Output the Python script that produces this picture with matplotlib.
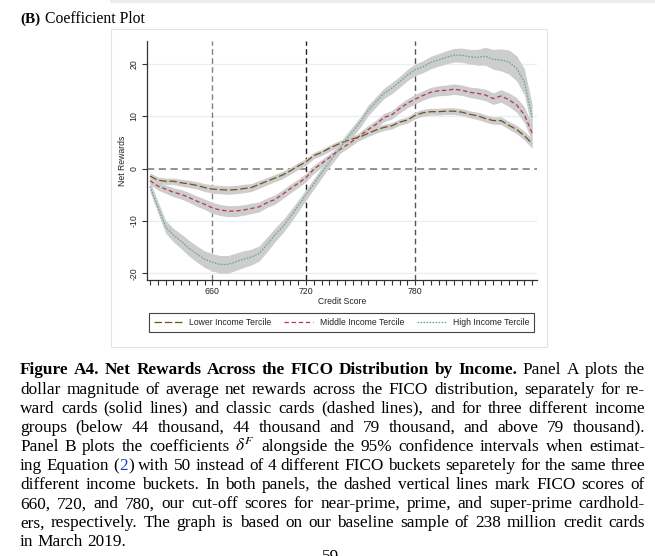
import numpy as np
import matplotlib
matplotlib.use('Agg')
import matplotlib.pyplot as plt
from matplotlib.patches import Rectangle

W, H = 655, 556

# 50 FICO buckets, labelled at the cut-off scores
bucket = np.arange(50)
tick_pos = [8, 20, 34]
tick_lab = ['660', '720', '780']

lower = [-1.4, -2.2, -2.4, -2.4, -2.7, -2.9, -3.2, -3.6, -3.9, -4.0,
         -4.1, -4.0, -3.8, -3.6, -3.0, -2.4, -1.8, -1.2, -0.4, 0.5,
         1.3, 2.5, 3.1, 3.9, 4.6, 5.2, 5.7, 6.1, 6.8, 7.4,
         7.9, 8.2, 8.9, 9.3, 10.2, 10.7, 10.9, 10.9, 11.0, 11.0,
         10.8, 10.4, 10.1, 9.6, 9.2, 9.2, 8.3, 7.5, 6.3, 4.8]
middle = [-2.3, -3.3, -3.9, -4.5, -4.9, -5.5, -6.2, -6.8, -7.5, -7.9,
          -8.1, -8.1, -7.9, -7.6, -7.3, -6.5, -5.9, -4.9, -3.8, -2.8,
          -1.7, -0.1, 1.0, 2.1, 3.3, 4.3, 5.3, 6.4, 7.5, 8.5,
          9.8, 10.3, 11.5, 12.5, 13.3, 14.0, 14.6, 14.9, 15.0, 15.2,
          15.0, 14.6, 14.4, 14.1, 13.4, 13.9, 13.2, 12.2, 10.3, 6.8]
high = [-3.4, -7.3, -11.1, -12.7, -13.9, -15.2, -16.3, -17.3, -17.9, -18.3,
        -18.3, -17.8, -17.3, -16.9, -16.2, -14.5, -12.7, -11.1, -9.2, -7.1,
        -5.0, -2.9, -0.8, 1.3, 3.2, 5.3, 7.1, 9.0, 11.2, 12.8,
        14.4, 15.4, 16.6, 17.9, 18.9, 19.5, 20.3, 20.8, 21.3, 21.7,
        21.7, 21.4, 21.3, 21.5, 20.9, 20.8, 20.4, 19.2, 16.6, 9.9]

# half widths of the 95% bands
lower_hw = [0.6, 0.6, 0.6, 0.6, 0.65, 0.7, 0.7, 0.75, 0.8, 0.8,
            0.8, 0.8, 0.8, 0.75, 0.75, 0.7, 0.7, 0.7, 0.65, 0.65,
            0.65, 0.6, 0.6, 0.6, 0.6, 0.6, 0.6, 0.6, 0.6, 0.6,
            0.6, 0.6, 0.6, 0.6, 0.65, 0.65, 0.65, 0.65, 0.65, 0.65,
            0.65, 0.65, 0.7, 0.7, 0.7, 0.75, 0.75, 0.8, 0.85, 0.9]
middle_hw = [0.7, 0.75, 0.8, 0.85, 0.9, 0.95, 1.0, 1.0, 1.05, 1.05,
             1.05, 1.05, 1.0, 1.0, 0.95, 0.9, 0.9, 0.85, 0.85, 0.8,
             0.8, 0.8, 0.75, 0.75, 0.75, 0.75, 0.75, 0.75, 0.8, 0.8,
             0.8, 0.8, 0.85, 0.85, 0.9, 0.9, 0.95, 0.95, 1.0, 1.0,
             1.0, 1.0, 1.05, 1.1, 1.1, 1.2, 1.3, 1.4, 1.5, 1.6]
high_hw = [1.0, 1.1, 1.2, 1.3, 1.4, 1.5, 1.55, 1.6, 1.65, 1.7,
           1.7, 1.65, 1.6, 1.5, 1.45, 1.4, 1.3, 1.25, 1.2, 1.1,
           1.05, 1.0, 1.0, 1.0, 1.0, 1.0, 1.0, 1.0, 1.0, 1.0,
           1.0, 1.05, 1.05, 1.1, 1.1, 1.15, 1.2, 1.2, 1.25, 1.3,
           1.35, 1.4, 1.5, 1.7, 1.9, 2.1, 2.3, 2.4, 2.5, 2.4]

names = ['Lower Income Tercile', 'Middle Income Tercile', 'High Income Tercile']

caption_bold = 'Figure A4. Net Rewards Across the FICO Distribution by Income.'
caption_lines = [
    'Figure A4. Net Rewards Across the FICO Distribution by Income. Panel A plots the',
    'dollar magnitude of average net rewards across the FICO distribution, separately for re-',
    'ward cards (solid lines) and classic cards (dashed lines), and for three different income',
    'groups (below 44 thousand, 44 thousand and 79 thousand, and above 79 thousand).',
    'Panel B plots the coefficients $\\delta^F$ alongside the 95% confidence intervals when estimat-',
    'ing Equation (2) with 50 instead of 4 different FICO buckets separetely for the same three',
    'different income buckets. In both panels, the dashed vertical lines mark FICO scores of',
    '660, 720, and 780, our cut-off scores for near-prime, prime, and super-prime cardhold-',
    'ers, respectively. The graph is based on our baseline sample of 238 million credit cards',
    'in March 2019.',
]


def fx(x):
    return x / W


def fy(y):
    return 1 - y / H


plt.rcParams['mathtext.fontset'] = 'stix'
fig = plt.figure(figsize=(W / 100, H / 100), dpi=100)
fig.patch.set_facecolor('white')

# page decorations
fig.add_artist(Rectangle((fx(110), fy(3)), fx(545), 3 / H, transform=fig.transFigure,
                         facecolor='#e8edef', edgecolor='none'))
fig.add_artist(Rectangle((fx(111), fy(347)), fx(436), 318 / H, transform=fig.transFigure,
                         facecolor='none', edgecolor='#e4e4e4', lw=0.8))

fig.text(fx(20), fy(23), '(B)', fontsize=11.0, family='Liberation Serif', weight='bold', va='baseline')
fig.text(fx(45), fy(23), 'Coefficient Plot', fontsize=11.3, family='Liberation Serif', va='baseline')

# ---- chart ----
sans = 'Liberation Sans'
ax = fig.add_axes([fx(146.7), fy(280), 390 / W, 239.3 / H])
ax.set_xlim(-0.42, 49.58)
ax.set_ylim(-21.28, 24.47)
for s in ['top', 'right']:
    ax.spines[s].set_visible(False)
for s in ['left', 'bottom']:
    ax.spines[s].set_color('#333333')
    ax.spines[s].set_linewidth(0.9)

for v in [-20, -10, 10, 20]:
    ax.axhline(v, color='#e6f0f2', lw=0.9, zorder=0)
ax.axhline(0, color='#8a8a8a', lw=1.3, dashes=(4, 2.5), zorder=1)
ax.axvline(8, color='#808080', lw=1.0, dashes=(4, 2.5), zorder=1)
ax.axvline(20, color='#222222', lw=1.0, dashes=(4, 2.5), zorder=1)
ax.axvline(34, color='#555555', lw=1.0, dashes=(4, 2.5), zorder=1)

styles = [
    (lower, lower_hw, '#6e5420', (6, 2.2)),
    (middle, middle_hw, '#b23a48', (3.5, 2.2)),
    (high, high_hw, '#6aa39a', (1.3, 1.1)),
]
for vals, hw, col, dash in styles:
    v = np.array(vals)
    e = np.array(hw)
    ax.fill_between(bucket, v - e, v + e, color='#cdcdcd', lw=0, zorder=2)
handles = []
for (vals, hw, col, dash), nm in zip(styles, names):
    ln, = ax.plot(bucket, vals, color=col, lw=0.9, dashes=dash, zorder=3, label=nm)
    handles.append(ln)

ax.set_yticks([-20, -10, 0, 10, 20])
ax.set_yticklabels(['-20', '-10', '0', '10', '20'], rotation=90, va='center')
ax.set_xticks(tick_pos)
ax.set_xticklabels(tick_lab)
ax.set_xticks([b for b in bucket if b not in tick_pos], minor=True)
ax.tick_params(axis='both', which='both', length=3.6, width=0.8, color='#333333',
               labelsize=6.3, labelcolor='#222222')
ax.tick_params(axis='y', pad=2.5)
ax.tick_params(axis='x', pad=1.5)
for t in ax.get_xticklabels() + ax.get_yticklabels():
    t.set_family(sans)

ax.set_ylabel('Net Rewards', fontsize=6.2, family=sans, color='#222222')
ax.yaxis.set_label_coords(-0.0608, 0.5)
ax.set_xlabel('Credit Score', fontsize=6.2, family=sans, color='#222222')
ax.xaxis.set_label_coords(0.5, -0.089)
ax.xaxis.label.set_va('center')
ax.yaxis.label.set_va('center')

leg = ax.legend(handles, names, ncol=3, loc='center', bbox_to_anchor=(fx(341.35), fy(322.3)),
                bbox_transform=fig.transFigure, frameon=True, fancybox=False,
                edgecolor='#444444', framealpha=1, handlelength=3.4, handletextpad=0.75,
                columnspacing=1.45, borderpad=0.55, borderaxespad=0,
                prop={'family': sans, 'size': 6.2})
leg.get_frame().set_linewidth(0.8)
for t in leg.get_texts():
    t.set_color('#222222')

# ---- caption, justified word by word ----
renderer = fig.canvas.get_renderer()
n_bold = len(caption_bold.split())


def word_segments(word, bold):
    if word == '(2)':
        return [('(', bold, 'black'), ('2', bold, '#2233cc'), (')', bold, 'black')]
    return [(word, bold, 'black')]


def measure(size):
    rows = []
    for li, line in enumerate(caption_lines):
        words = []
        for wi, w in enumerate(line.split(' ')):
            segs = []
            for txt, b, c in word_segments(w, li == 0 and wi < n_bold):
                t = fig.text(0, 0, txt, fontsize=size, family='Liberation Serif',
                             weight='bold' if b else 'normal', color=c, va='baseline', ha='left')
                segs.append((t, t.get_window_extent(renderer).width))
            words.append(segs)
        rows.append(words)
    return rows


left, right = 20, 645
trial = measure(10)
nat = []
for words in trial:
    tot = sum(sw for segs in words for _, sw in segs) + 0.25 * 10 * 100 / 72 * (len(words) - 1)
    nat.append(tot)
    for segs in words:
        for t, _ in segs:
            t.remove()
cap_size = min(13.0, 10 * 621 / max(nat[:-1]))
rows = measure(cap_size)
space = 0.25 * cap_size * 100 / 72
for li, words in enumerate(rows):
    base = 374.5 + li * 19.1
    widths = [sum(sw for _, sw in segs) for segs in words]
    if li < len(rows) - 1:
        gap = (right - left - sum(widths)) / (len(words) - 1)
    else:
        gap = space
    x = left
    for segs, ww in zip(words, widths):
        xx = x
        for t, sw in segs:
            t.set_position((fx(xx), fy(base)))
            xx += sw
        x += ww + gap

fig.text(fx(331), fy(549), '59', fontsize=cap_size, family='Liberation Serif', ha='center', va='top')

fig.savefig('out.png', dpi=100)
